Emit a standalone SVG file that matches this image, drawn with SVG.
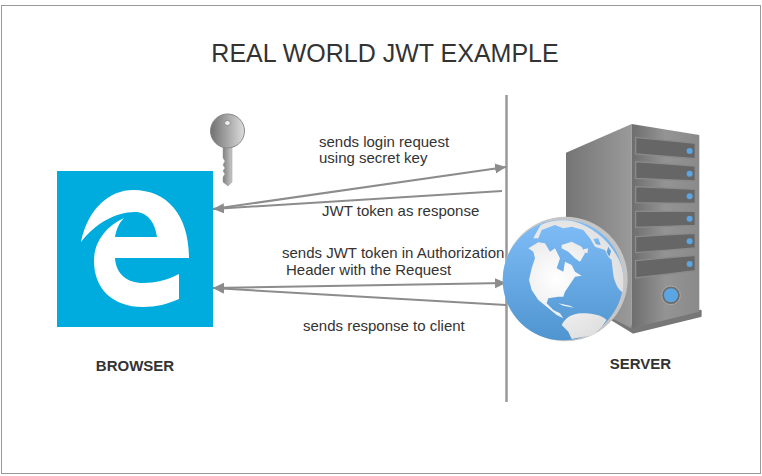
<svg xmlns="http://www.w3.org/2000/svg" width="762" height="476" viewBox="0 0 762 476">
<style>
text{font-family:"Liberation Sans",Arial,sans-serif;fill:#333}
.l{font-size:15px}
.b{font-size:15px;font-weight:bold}
.c{fill:none;stroke:#8c8c8c;stroke-width:2}
.d{fill:#666;stroke:#8a8a8a;stroke-width:4}
.led{fill:#5aa5e2}
</style>
<defs>
<marker id="a" markerUnits="userSpaceOnUse" markerWidth="12" markerHeight="12" refX="11" refY="6" orient="auto-start-reverse"><path d="M0 1L11 6L0 11z" fill="#8c8c8c"/></marker>
<linearGradient id="k" x1="0" x2="1"><stop offset="0" stop-color="#707070"/><stop offset="1" stop-color="#ddd"/></linearGradient>
<linearGradient id="k2" x1="0" x2="1"><stop offset="0" stop-color="#808080"/><stop offset="1" stop-color="#c8c8c8"/></linearGradient>
<linearGradient id="s" x1="0" x2="1"><stop offset="0" stop-color="#757575"/><stop offset="1" stop-color="#9a9a9a"/></linearGradient>
<linearGradient id="f" x1="0" x2="1"><stop offset="0" stop-color="#6e6e6e"/><stop offset=".5" stop-color="#949494"/><stop offset="1" stop-color="#8a8a8a"/></linearGradient>
<linearGradient id="g" x1="0" x2="0" y1="0" y2="1"><stop offset="0" stop-color="#80bdf8"/><stop offset="1" stop-color="#4f95cf"/></linearGradient>
<radialGradient id="w" gradientUnits="userSpaceOnUse" cx="170" cy="190" r="210"><stop offset="0" stop-color="#fff"/><stop offset="1" stop-color="#dedede"/></radialGradient>
</defs>
<rect id="frame" x="1.500" y="5.500" width="759" height="468" fill="#fff" stroke="#999"/>
<text x="385" y="62" font-size="25" text-anchor="middle">REAL WORLD JWT EXAMPLE</text>
<g id="connectors">
<path d="M506.500 95V402" fill="none" stroke="#999" stroke-width="2.500"/>
<path class="c" d="M213 209L506 167" marker-end="url(#a)"/>
<path class="c" d="M502 191L213 209" marker-end="url(#a)"/>
<path class="c" d="M213 288L506 283" marker-start="url(#a)" marker-end="url(#a)"/>
<path class="c" d="M506 305L213 288" marker-end="url(#a)"/>
</g>
<g id="browser">
<rect x="57" y="171" width="156" height="156" fill="#00acdd"/>
<path fill="#fff" d="M81 242C88 208 110 190 133 190C168 190 189 216 189 258H115C116 274 127 283 143 283C155 283 168 280 179 274V299C168 304 156 307 143 307C112 307 94 288 94 261C94 241 107 226 124 218C119 223 116 230 115 237H157C155 222 147 212 135 212C115 212 95 224 81 242Z"/>
<text class="b" x="135" y="371" text-anchor="middle">BROWSER</text>
</g>
<g id="key">
<path d="M223 146H232V182L228 186L223 182V177L225 174L223 171L225 168L223 165L225 161L223 158z" fill="url(#k2)" stroke="#999" stroke-width=".5"/>
<circle cx="227.500" cy="131" r="17" fill="url(#k)" stroke="#888"/>
<ellipse cx="227.500" cy="123" rx="3" ry="2.500" fill="#eee" stroke="#777" stroke-width=".7"/>
</g>
<g id="server">
<g transform="translate(490 110) scale(.3333)">
<path d="M365 628L430 668L632 618V602L430 650z" fill="#777" stroke="#777" stroke-width="6" stroke-linejoin="round"/>
<path d="M228 128L425 42V655L365 625L228 540z" fill="url(#s)"/>
<path d="M425 42L628 75V605L425 655z" fill="url(#f)"/>
<path class="d" d="M437 82L616 100V146L437 132z"/>
<path class="d" d="M437 155L616 168V213L437 205z"/>
<path class="d" d="M437 230L616 238V280L437 278z"/>
<path class="d" d="M437 304L616 304V346L437 352z"/>
<path class="d" d="M437 380L616 370V414L437 428z"/>
<path class="d" d="M437 452L616 436V482L437 504z"/>
<circle class="led" cx="599" cy="123" r="9"/>
<circle class="led" cx="599" cy="191" r="9"/>
<circle class="led" cx="599" cy="259" r="9"/>
<circle class="led" cx="599" cy="326" r="9"/>
<circle class="led" cx="599" cy="394" r="9"/>
<circle class="led" cx="599" cy="462" r="9"/>
<circle cx="543" cy="556" r="28" fill="#6d6d6d" stroke="#aaa" stroke-width="3"/>
<circle class="led" cx="543" cy="556" r="21"/>
</g>
<text class="b" x="640.500" y="369" text-anchor="middle">SERVER</text>
</g>
<g id="globe" transform="translate(500 215) scale(.3333)">
<circle cx="196" cy="192" r="187" fill="#c6c6c6"/>
<circle cx="189" cy="195" r="181" fill="url(#g)"/>
<path fill="url(#w)" d="M100 70L108 55L122 30C150 15 190 12 225 20C275 35 330 75 360 140C372 170 372 200 368 232C355 225 345 205 340 180L335 135L325 125L315 105L285 95L270 70L250 45L215 35L190 40L165 30L125 45L115 70Z"/>
<path fill="url(#g)" d="M280 72L295 70L302 90L288 88ZM325 95L333 108L328 125L320 110Z"/>
<path fill="url(#w)" d="M85 100L115 82L135 85L150 110L165 100L180 130L170 160L190 170L195 140L215 150L225 170L245 182L225 185L215 200L195 230L190 245L175 245L145 250L140 265L160 285L180 295L190 310L170 300L140 275L115 255L95 225L87 195L95 160L105 130L100 110Z"/>
<path fill="url(#w)" d="M185 90L215 80L245 95L255 115L240 140L225 130L205 110L185 100Z"/>
<path fill="url(#w)" d="M250 103L265 100L262 115L250 112Z"/>
<path fill="url(#w)" d="M185 330C195 310 215 295 245 295C275 295 305 300 320 315L305 335L280 360L215 372L205 350Z"/>
<path fill="url(#w)" d="M175 265L210 272L222 278L190 272Z"/>
</g>
<text class="l" x="319" y="147">sends login request</text>
<text class="l" x="319" y="163">using secret key</text>
<text class="l" x="322" y="216">JWT token as response</text>
<text class="l" x="282" y="258">sends JWT token in Authorization</text>
<text class="l" x="286" y="275">Header with the Request</text>
<text class="l" x="303" y="331">sends response to client</text>
</svg>
